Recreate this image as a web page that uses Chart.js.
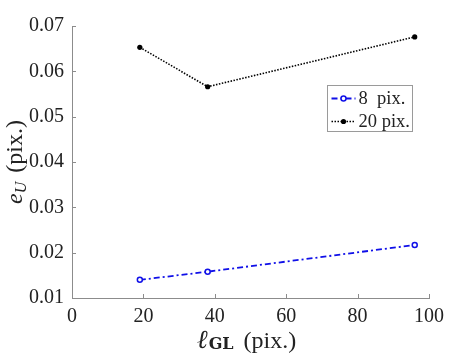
<!DOCTYPE html>
<html><head><meta charset="utf-8">
<script src="https://cdn.jsdelivr.net/npm/chart.js@4/dist/chart.umd.min.js"></script>
<style>html,body{margin:0;padding:0;background:#fff}</style></head>
<body>
<canvas id="c" width="474" height="355"></canvas>
<script>
const xValues = [19, 38, 96];
const series8 = [0.0140, 0.0158, 0.0217];
const series20 = [0.0653, 0.0566, 0.0676];
const seriesLabels = ['8  pix.', '20 pix.'];
const xTicks = [0, 20, 40, 60, 80, 100];
const yTicks = [0.01, 0.02, 0.03, 0.04, 0.05, 0.06, 0.07];

const FONT = '"Liberation Serif", serif';
const AXIS_COLOR = '#8c8c8c';
const TEXT_COLOR = '#222';
const BLUE = '#1010e8';

const ds = [
  { label: seriesLabels[0], data: xValues.map((x, i) => ({ x, y: series8[i] })),
    borderColor: BLUE, borderWidth: 1.8, borderDash: [6, 3, 2, 3],
    pointRadius: 2.5, pointBorderWidth: 1.5, pointBackgroundColor: '#fff', pointBorderColor: BLUE,
    fill: false, tension: 0 },
  { label: seriesLabels[1], data: xValues.map((x, i) => ({ x, y: series20[i] })),
    borderColor: '#000', borderWidth: 1.6, borderDash: [1.5, 1.5],
    pointRadius: 2.6, pointBorderWidth: 0, pointBackgroundColor: '#000', pointBorderColor: '#000',
    fill: false, tension: 0 }
];

const decor = {
  id: 'decor',
  afterDraw(chart) {
    const ctx = chart.ctx, ca = chart.chartArea;
    const xs = chart.scales.x, ys = chart.scales.y;
    ctx.save();
    ctx.strokeStyle = AXIS_COLOR; ctx.lineWidth = 1;
    xTicks.forEach(t => { const p = Math.round(xs.getPixelForValue(t)) + 0.5;
      ctx.beginPath(); ctx.moveTo(p, ca.bottom); ctx.lineTo(p, ca.bottom - 4); ctx.stroke(); });
    yTicks.forEach(t => { const p = Math.round(ys.getPixelForValue(t)) + 0.5;
      ctx.beginPath(); ctx.moveTo(ca.left, p); ctx.lineTo(ca.left + 4, p); ctx.stroke(); });

    ctx.fillStyle = TEXT_COLOR;
    ctx.textBaseline = 'alphabetic';
    const drawParts = (parts, cx, base) => {
      let w = 0;
      parts.forEach(p => { ctx.font = p.f; p.w = ctx.measureText(p.t).width + (p.gap || 0); w += p.w; });
      let x = cx - w / 2;
      ctx.textAlign = 'left';
      parts.forEach(p => { ctx.font = p.f; ctx.fillText(p.t, x + (p.gap || 0), base + p.dy); x += p.w; });
    };
    drawParts([
      { t: 'ℓ', f: 'italic 26px ' + FONT, dy: 0 },
      { t: 'GL', f: 'bold 16px "DejaVu Serif", serif', dy: 1, gap: 1 },
      { t: '(pix.)', f: '24px ' + FONT, dy: 0, gap: 10 }
    ], (ca.left + ca.right) / 2 - 4, 348);
    ctx.save();
    ctx.translate(22, (ca.top + ca.bottom) / 2);
    ctx.rotate(-Math.PI / 2);
    drawParts([
      { t: 'e', f: 'italic 24px ' + FONT, dy: 0 },
      { t: 'U', f: 'italic 16px ' + FONT, dy: 4 },
      { t: '(pix.)', f: '24px ' + FONT, dy: 0, gap: 9 }
    ], 0, 0);
    ctx.restore();

    const W = ca.right - ca.left, H = ca.bottom - ca.top;
    const bx = Math.round(ca.left + 0.715 * W) + 0.5, by = Math.round(ca.top + 0.217 * H) + 0.5;
    const bw = 85, bh = 46;
    ctx.fillStyle = '#fff'; ctx.fillRect(bx, by, bw, bh);
    ctx.strokeStyle = '#9a9a9a'; ctx.lineWidth = 1; ctx.strokeRect(bx, by, bw, bh);
    chart.data.datasets.forEach((d, i) => {
      const yy = by + 13 + i * 23;
      ctx.strokeStyle = d.borderColor; ctx.lineWidth = d.borderWidth;
      ctx.setLineDash(d.borderDash);
      ctx.beginPath(); ctx.moveTo(bx + 4, yy); ctx.lineTo(bx + 28, yy); ctx.stroke();
      ctx.setLineDash([]);
      ctx.beginPath(); ctx.arc(bx + 16, yy, d.pointRadius, 0, Math.PI * 2);
      ctx.fillStyle = d.pointBackgroundColor; ctx.fill();
      if (d.pointBorderWidth) { ctx.lineWidth = d.pointBorderWidth; ctx.strokeStyle = d.pointBorderColor; ctx.stroke(); }
      ctx.fillStyle = TEXT_COLOR; ctx.font = '18.5px ' + FONT;
      ctx.textAlign = 'left'; ctx.textBaseline = 'middle';
      ctx.fillText(d.label, bx + 31, yy + 1);
    });
    ctx.restore();
  }
};

function build() {
  new Chart(document.getElementById('c'), {
    type: 'line',
    data: { datasets: ds },
    options: {
      responsive: false, animation: false, devicePixelRatio: 1,
      layout: { padding: { left: 0, top: 26, right: 45, bottom: 0 } },
      plugins: { legend: { display: false }, tooltip: { enabled: false } },
      scales: {
        x: {
          type: 'linear', min: 0, max: 100,
          afterBuildTicks: s => { s.ticks = xTicks.map(v => ({ value: v })); },
          afterFit: s => { s.height = 57; },
          ticks: { font: { family: FONT, size: 20 }, color: TEXT_COLOR, padding: 7, maxRotation: 0,
                   callback: v => String(v) },
          grid: { drawOnChartArea: false, drawTicks: false },
          border: { color: AXIS_COLOR, width: 1 }
        },
        y: {
          type: 'linear', min: 0.01, max: 0.07,
          afterBuildTicks: s => { s.ticks = yTicks.map(v => ({ value: v })); },
          afterFit: s => { s.width = 72; },
          ticks: { font: { family: FONT, size: 20 }, color: TEXT_COLOR, padding: 8,
                   callback: v => Number(v).toFixed(2) },
          grid: { drawOnChartArea: false, drawTicks: false },
          border: { color: AXIS_COLOR, width: 1 }
        }
      }
    },
    plugins: [decor]
  });
}
Promise.all([
  document.fonts.load('20px "Liberation Serif"'),
  document.fonts.load('italic 20px "Liberation Serif"'),
  document.fonts.load('bold 16px "DejaVu Serif"')
]).then(build, build);
</script>
</body></html>
